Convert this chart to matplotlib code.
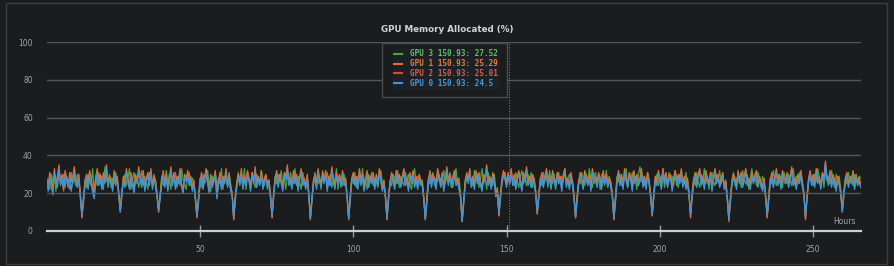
import matplotlib
matplotlib.use("Agg")
import matplotlib.pyplot as plt
from matplotlib.patches import Rectangle
import numpy as np

W, H = 895, 266

# half-hourly samples, one row per dip-to-dip stretch
gpu0 = [
    26,21,29,24,19,31,27,23,33,25,28,22,30,26,24,29,21,27,31,25,23,28,17,8,
    16,24,28,22,30,25,20,17,26,31,24,27,22,29,25,33,23,28,26,21,30,24,27,19,10,
    18,27,23,31,26,22,29,24,20,28,25,32,27,23,30,21,26,29,24,31,22,27,25,18,11,
    17,25,30,23,28,21,26,32,24,29,22,27,25,31,23,20,28,26,30,24,27,21,25,16,8,
    15,24,29,22,27,31,25,20,28,23,26,30,17,24,29,22,27,25,31,23,28,21,18,7,
    16,23,28,25,31,22,27,24,30,26,21,29,25,32,23,27,24,30,22,26,28,23,25,17,8,
    18,26,30,23,28,25,21,29,27,33,24,26,22,30,25,28,21,27,31,24,26,22,28,18,7,
    15,25,28,22,31,26,23,29,25,30,21,27,24,32,26,22,29,25,28,23,30,24,26,17,7,
    16,26,29,24,27,22,31,25,28,21,26,30,23,27,25,29,22,28,24,31,26,21,25,17,7,
    17,24,29,26,22,30,25,28,23,27,31,24,26,21,29,25,30,23,27,22,28,25,24,16,6,
    15,25,30,23,28,26,22,31,27,24,29,21,26,32,25,28,23,27,30,24,26,22,17,5,
    14,24,28,26,31,23,27,22,30,25,29,24,21,28,26,33,24,27,22,29,25,18,20,9,
    17,26,30,27,23,29,24.5,31,24,28,22,27,30,25,21,29,26,32,24,27,23,28,25,19,10,
    18,25,29,23,27,31,24,28,22,30,26,23,29,25,27,21,28,31,24,26,22,29,24,17,7,
    16,24,29,26,22,30,27,24,28,21,31,25,27,23,29,26,22,30,25,28,23,26,24,18,7,
    15,25,30,24,28,22,31,26,23,29,27,21,30,25,28,24,26,31,23,27,22,29,25,17,9,
    18,27,24,30,26,22,31,25,29,23,27,28,21,26,30,24,28,25,31,23,27,22,26,19,9,
    17,25,29,23,28,31,24,27,22,30,26,24,29,21,27,31,25,28,23,26,29,22,24,16,6,
    15,24,28,26,22,30,25,29,23,27,31,24,26,22,29,25,28,30,23,27,24,21,26,17,8,
    16,25,29,23,27,31,24,28,22,30,26,25,29,23,27,32,24,26,22,28,25,30,24,18,7,
    17,26,30,24,28,23,31,25,27,22,29,26,36,27,24,30,23,28,25,21,27,24,19,10,
    18,26,29,23,27,25,30,22,28,24,26,23,
]
gpu1 = [
    28,24,31,27,22,33,25,29,35,26,30,24,32,28,23,31,26,29,34,27,25,30,19,7,
    18,27,30,25,32,28,23,21,29,33,26,30,24,31,27,35,25,29,28,23,32,26,29,21,11,
    20,29,25,33,28,24,31,27,22,30,26,34,29,25,32,23,28,31,26,33,24,29,27,20,10,
    19,27,32,25,30,23,28,34,26,31,24,29,27,33,25,22,30,28,32,26,29,23,27,18,7,
    17,26,31,24,29,33,27,22,30,25,28,32,19,26,31,24,29,27,33,25,30,23,20,6,
    18,25,30,27,33,24,29,26,32,28,23,31,27,34,25,29,26,32,24,28,30,25,27,19,7,
    20,28,32,25,30,27,23,31,29,35,26,28,24,32,27,30,23,29,33,26,28,24,30,20,6,
    17,27,30,24,33,28,25,31,27,32,23,29,26,34,28,24,31,27,30,25,32,26,28,19,6,
    18,28,31,26,29,24,33,27,30,23,28,32,25,29,27,31,24,30,26,33,28,23,27,19,6,
    19,26,31,28,24,32,27,30,25,29,33,26,28,23,31,27,32,25,29,24,30,27,26,18,6,
    17,27,32,25,30,28,24,33,29,26,31,23,28,34,27,30,25,29,32,26,28,24,19,5,
    16,26,30,28,33,25,29,24,32,27,31,26,23,30,28,35,26,29,24,31,27,20,22,8,
    19,28,32,29,25,31,25.29,33,26,30,24,29,32,27,23,31,28,34,26,29,25,30,27,21,9,
    20,27,31,25,29,33,26,30,24,32,28,25,31,27,29,23,30,33,26,28,24,31,26,19,7,
    18,26,31,28,24,32,29,26,30,23,33,27,29,25,31,28,24,32,27,30,25,28,26,20,6,
    17,27,32,26,30,24,33,28,25,31,29,23,32,27,30,26,28,33,25,29,24,31,27,19,8,
    20,29,26,32,28,24,33,27,31,25,29,30,23,28,32,26,30,27,33,25,29,24,28,21,7,
    19,27,31,25,30,33,26,29,24,32,28,26,31,23,29,33,27,30,25,28,31,24,26,18,5,
    17,26,30,28,24,32,27,31,25,29,33,26,28,24,31,27,30,32,25,29,26,23,28,19,7,
    18,27,31,25,29,33,26,30,24,32,28,27,31,25,29,34,26,28,24,30,27,32,26,20,6,
    19,28,32,26,30,25,33,27,29,24,31,28,37,29,26,32,25,30,27,23,29,26,21,11,
    20,28,31,25,29,27,32,24,30,26,28,25,
]
gpu2 = [
    25,23,28,26,20,30,26,24,31,27,26,21,29,27,25,28,22,26,30,26,24,27,18,7,
    17,25,27,23,29,26,22,19,27,30,25,28,23,30,26,32,24,27,27,22,29,25,28,20,10,
    19,28,24,30,27,23,28,25,21,29,26,31,28,24,29,22,27,30,25,30,23,28,26,19,10,
    18,26,29,24,29,22,27,31,25,30,23,28,26,30,24,21,29,27,29,25,28,22,26,17,7,
    16,25,28,23,28,30,26,21,29,24,27,29,18,25,30,23,28,26,30,24,29,22,19,6,
    17,24,29,26,30,23,28,25,31,27,22,30,26,31,24,28,25,31,23,27,29,24,26,18,7,
    19,27,31,24,29,26,22,30,28,32,25,27,23,31,26,29,22,28,30,25,27,23,29,19,6,
    16,26,29,23,32,27,24,30,26,31,22,28,25,33,27,23,30,26,29,24,31,25,27,18,6,
    17,27,30,25,28,23,32,26,29,22,27,31,24,28,26,30,23,29,25,32,27,22,26,18,6,
    18,25,30,27,23,31,26,29,24,28,32,25,27,22,30,26,31,24,28,23,29,26,25,17,6,
    16,26,31,24,29,27,23,32,28,25,30,22,27,33,26,29,24,28,31,25,27,23,18,5,
    15,25,29,27,32,24,28,23,31,26,30,25,22,29,27,34,25,28,23,30,26,19,21,8,
    18,27,31,28,24,30,25.01,32,25,29,23,28,31,26,22,30,27,33,25,28,24,29,26,20,9,
    19,26,30,24,28,32,25,29,23,31,27,24,30,26,28,22,29,32,25,27,23,30,25,18,7,
    17,25,30,27,23,31,28,25,29,22,32,26,28,24,30,27,23,31,26,29,24,27,25,19,6,
    16,26,31,25,29,23,32,27,24,30,28,22,31,26,29,25,27,32,24,28,23,30,26,18,8,
    19,28,25,31,27,23,32,26,30,24,28,29,22,27,31,25,29,26,32,24,28,23,27,20,7,
    18,26,30,24,29,32,25,28,23,31,27,25,30,22,28,32,26,29,24,27,30,23,25,17,6,
    16,25,29,27,23,31,26,30,24,28,32,25,27,23,30,26,29,31,24,28,25,22,27,18,7,
    17,26,30,24,28,32,25,29,23,31,27,26,30,24,28,33,25,27,23,29,26,31,25,19,6,
    18,27,31,25,29,24,32,26,28,23,30,27,35,28,25,31,24,29,26,22,28,25,20,10,
    19,27,30,24,28,26,31,23,29,25,27,24,
]
gpu3 = [
    24,27,22,30,26,29,21,28,32,24,27,30,23,29,26,22,31,25,28,24,30,26,19,9,
    15,27,23,30,26,24,33,20,28,24,31,26,29,22,34,27,25,30,23,28,25,31,26,19,11,
    21,26,30,24,28,33,22,27,31,25,29,23,27,32,24,29,26,22,31,28,25,30,23,18,11,
    19,29,24,27,32,25,30,22,28,26,31,23,29,24,33,27,25,22,29,31,24,28,25,18,9,
    17,28,23,30,25,27,32,24,21,29,26,31,23,28,25,33,22,29,26,24,31,25,20,7,
    18,26,31,24,28,25,33,22,29,27,24,31,26,23,30,28,25,32,27,24,29,22,27,19,8,
    17,29,25,30,27,32,24,28,22,30,26,31,27,25,33,24,29,26,22,31,27,24,26,19,7,
    18,24,31,27,25,29,22,32,26,28,31,24,30,23,28,26,33,22,29,27,24,30,25,18,7,
    19,28,25,31,23,29,27,24,33,26,28,22,30,27,31,24,28,26,23,29,32,25,24,18,7,
    16,27,24,30,28,25,32,23,29,26,24,31,27,30,25,22,28,33,25,29,26,24,27,17,7,
    18,28,25,29,31,24,28,26,30,23,27,32,25,29,24,31,27,23,28,33,25,28,19,6,
    16,27,31,25,29,27,24,32,26,30,23,28,33,25,29,22,31,26,28,24,30,21,23,10,
    20,25,29,31,26,28,27.52,30,27,24,31,26,23,29,32,25,28,24,30,26,31,23,28,21,10,
    17,28,24,31,26,29,23,32,27,25,30,22,28,31,25,29,26,33,23,28,30,25,27,19,8,
    19,27,25,31,28,24,30,26,33,27,23,29,31,25,28,22,30,27,24,32,26,29,23,18,7,
    18,29,26,30,24,28,27,33,23,29,26,31,25,28,22,30,34,26,29,24,27,31,25,20,9,
    17,26,30,24,29,27,33,23,28,25,31,26,29,24,32,27,23,30,26,28,25,31,24,19,9,
    20,28,24,31,26,23,30,27,33,25,29,22,28,31,26,24,30,27,32,25,28,24,27,18,7,
    18,27,31,24,28,26,29,23,32,27,25,30,22,28,33,26,29,24,31,27,23,29,25,18,8,
    19,28,25,32,27,24,30,26,29,23,31,28,25,30,27,24,33,26,29,25,31,27,23,20,8,
    18,25,31,27,24,30,26,33,28,25,30,23,31,27,29,25,32,26,23,30,27,29,21,11,
    21,28,25,31,26,29,24,30,27,25,29,28,
]
hours = np.arange(len(gpu0)) * 0.5

hover_x = 150.93
legend_names = ["GPU 3", "GPU 1", "GPU 2", "GPU 0"]
legend_vals = ["27.52", "25.29", "25.01", "24.5"]

bg = "#1b1c1e"
line_cols = {"GPU 0": "#3d95dc", "GPU 1": "#f06a24", "GPU 2": "#d9473c", "GPU 3": "#3ea83a"}
text_cols = {"GPU 0": "#4a9ad8", "GPU 1": "#e57f3c", "GPU 2": "#d35e56", "GPU 3": "#5cc460"}
series = {"GPU 0": gpu0, "GPU 1": gpu1, "GPU 2": gpu2, "GPU 3": gpu3}


def fx(x):
    return x / W


def fy(y):
    return 1 - y / H


fig = plt.figure(figsize=(W / 100, H / 100), dpi=100, facecolor=bg)
fig.patches.append(Rectangle((fx(6), fy(264)), fx(881), 262 / H - 0.005,
                             transform=fig.transFigure, fill=False,
                             edgecolor="#3c3d40", lw=1.0))

ax = fig.add_axes([fx(46.7), fy(231), fx(861 - 46.7), (231 - 42) / H])
ax.set_facecolor(bg)

for name in ["GPU 2", "GPU 3", "GPU 1", "GPU 0"]:
    ax.plot(hours, series[name], color=line_cols[name], lw=0.9, zorder=2)

for gy in [20, 40, 60, 80, 100]:
    ax.axhline(gy, color="#5c5d60", lw=1.0, zorder=3, alpha=0.9)
ax.axhline(0, color="#cfcfcf", lw=1.6, zorder=4, clip_on=False)

ax.axvline(hover_x, color="#4d7fa8", lw=0.8, ls=(0, (1, 1.5)), zorder=5)

ax.set_xlim(0, 265.6)
ax.set_ylim(0, 100)
for s in ax.spines.values():
    s.set_visible(False)

ax.set_xticks([50, 100, 150, 200, 250])
ax.set_yticks([0, 20, 40, 60, 80, 100])
ax.tick_params(axis="x", direction="inout", length=8, width=1, color="#9a9a9a",
               labelcolor="#a3a3a3", labelsize=5.5, pad=6)
ax.tick_params(axis="y", length=0, labelcolor="#a3a3a3", labelsize=5.5, pad=10)

fig.text(fx(845), fy(222), "Hours", color="#a3a3a3", fontsize=5.5,
         ha="center", va="center")
fig.text(fx(447), fy(30), "GPU Memory Allocated (%)", color="#d2d2d2",
         fontsize=6.3, fontweight="bold", ha="center", va="center")

# hover legend box
fig.patches.append(Rectangle((fx(382.5), fy(97)), fx(507 - 382.5), (97 - 43) / H,
                             transform=fig.transFigure, facecolor="#1b1c1e",
                             edgecolor="#4a4b4e", lw=1.0, zorder=10))
fig.patches.append(Rectangle((fx(393), fy(90)), fx(500 - 393), (90 - 49) / H,
                             transform=fig.transFigure, facecolor="#1d2126",
                             edgecolor="none", zorder=11))
for i, name in enumerate(legend_names):
    ry = 54 + i * 9.7
    fig.lines.append(plt.Line2D([fx(394), fx(402)], [fy(ry), fy(ry)],
                                transform=fig.transFigure, color=line_cols[name],
                                lw=1.5, zorder=12))
    fig.text(fx(410.5), fy(ry), f"{name} {hover_x}: {legend_vals[i]}",
             color=text_cols[name], fontsize=5.5, fontweight="bold",
             family="DejaVu Sans Mono", ha="left", va="center", zorder=12)

fig.savefig("out.png", dpi=100, facecolor=bg)
